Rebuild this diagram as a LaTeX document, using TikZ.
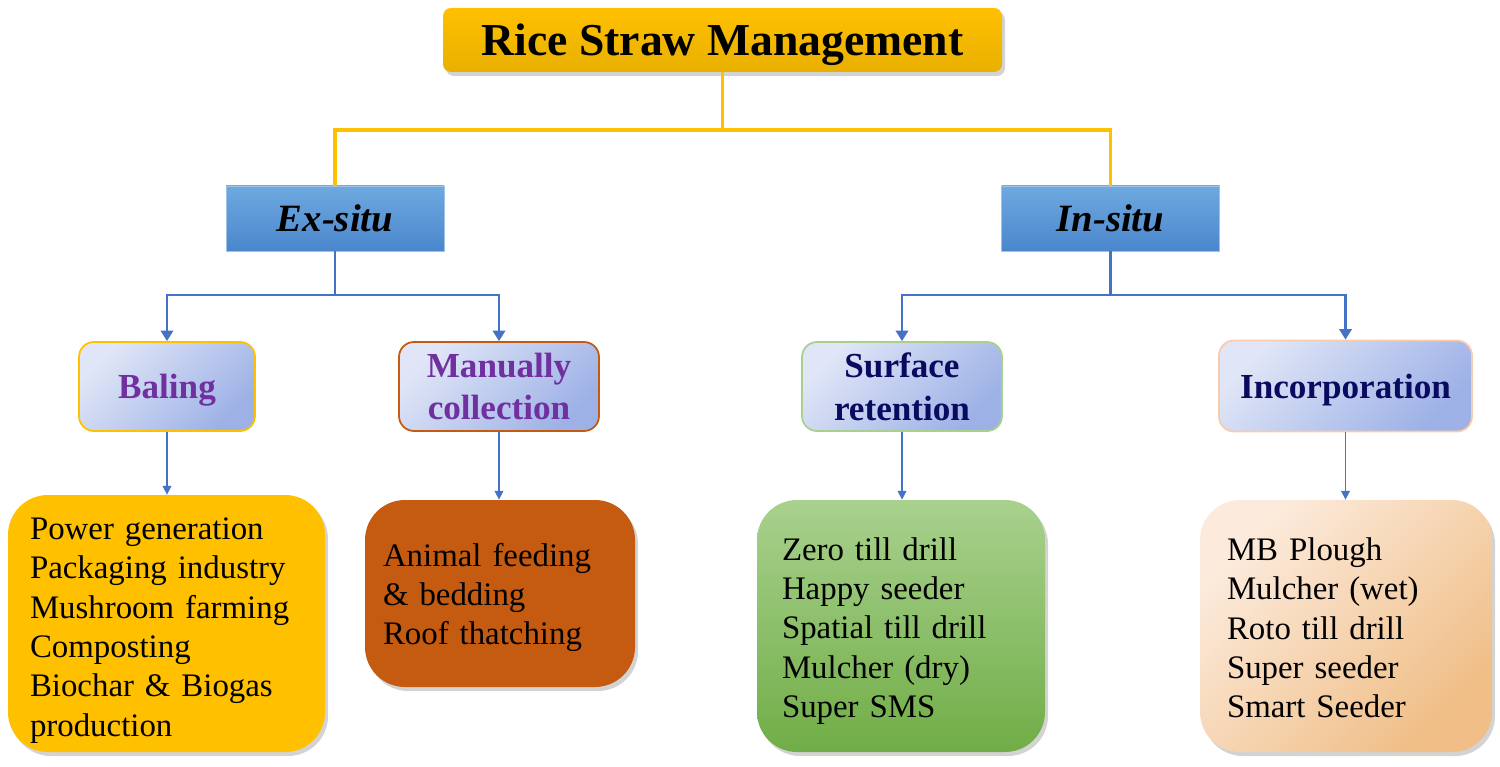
\documentclass[tikz,border=0pt]{standalone}
\usepackage{fontspec}
\setmainfont{Liberation Serif}
\usetikzlibrary{shadows,arrows.meta}
\definecolor{gold}{HTML}{FFC000}
\definecolor{golddark}{HTML}{E8B000}
\definecolor{blueline}{HTML}{4472C4}
\definecolor{bluetop}{HTML}{6FA9E0}
\definecolor{bluebot}{HTML}{4A86CD}
\definecolor{blueedge}{HTML}{9DC3E6}
\definecolor{lavlight}{HTML}{E0E6F7}
\definecolor{lavdark}{HTML}{9DB1E6}
\definecolor{purp}{HTML}{7030A0}
\definecolor{navy}{HTML}{0A0A60}
\definecolor{rust}{HTML}{C55A11}
\definecolor{greenedge}{HTML}{A9D18E}
\definecolor{greentop}{HTML}{A9D18E}
\definecolor{greenbot}{HTML}{70AD47}
\definecolor{peachedge}{HTML}{F8CBAD}
\definecolor{peachlight}{HTML}{FCEBDD}
\definecolor{peachdark}{HTML}{F0BE86}
\tikzset{
  shad/.style={drop shadow={opacity=0.35,shadow xshift=0.06cm,shadow yshift=-0.08cm}},
  titlebox/.style={rounded corners=0.16cm, top color=gold, bottom color=golddark, draw=none, shad,
    minimum width=11.18cm, minimum height=1.28cm, inner sep=0pt, text depth=0pt,
    font=\fontsize{26}{30}\selectfont\bfseries},
  catbox/.style={draw=blueedge, line width=0.5pt, top color=bluetop, bottom color=bluebot,
    minimum width=4.36cm, minimum height=1.3cm, inner sep=0pt, font=\fontsize{22}{26}\selectfont\bfseries\itshape},
  subbox/.style={rounded corners=0.3cm, line width=1pt, left color=lavlight, right color=lavdark, shading angle=45,
    minimum height=1.78cm, inner sep=0pt, align=center, font=\fontsize{20}{24.4}\selectfont\bfseries},
  listbox/.style={rounded corners=0.8cm, draw=none, shad, inner sep=0pt},
  listtext/.style={align=left, inner sep=0pt, font=\fontsize{18.7}{22.4}\selectfont},
  yline/.style={draw=gold, line width=2.2pt},
  bline/.style={draw=blueline, line width=1.6pt},
  barrow/.style={draw=blueline, line width=1.6pt, -{Triangle[width=7pt,length=6pt]}},
  tarrow/.style={draw=blueline, line width=0.7pt, -{Triangle[width=5pt,length=5pt]}}
}
\begin{document}
\begin{tikzpicture}
\useasboundingbox (0,0) rectangle (30,-15.34);
% title
\node[titlebox] (title) at (14.45,-0.8) {Rice Straw Management};
% level 1
\node[catbox] (ex) at (6.7,-4.37) {Ex-situ};
\node[catbox] (in) at (22.21,-4.37) {In-situ};
% level 2
\node[subbox, draw=gold, text=purp, minimum width=3.52cm, text depth=0pt] (bal) at (3.34,-7.73) {Baling};
\node[subbox, draw=rust, text=purp, minimum width=4.0cm] (man) at (9.98,-7.73) {Manually\\collection};
\node[subbox, draw=greenedge, text=navy, minimum width=4.0cm] (sur) at (18.04,-7.73) {Surface\\retention};
\node[subbox, draw=peachedge, text=navy, minimum width=5.06cm, minimum height=1.82cm, text depth=0pt] (inc) at (26.91,-7.72) {Incorporation};
% bottom boxes
\node[listbox, fill=gold, minimum width=6.34cm, minimum height=5.14cm] (yb) at (3.33,-12.47) {};
\node[listbox, fill=rust, minimum width=5.4cm, minimum height=3.74cm] (ob) at (10.0,-11.87) {};
\node[listbox, top color=greentop, bottom color=greenbot, minimum width=5.76cm, minimum height=5.04cm] (gb) at (18.02,-12.52) {};
\node[listbox, left color=peachlight, right color=peachdark, shading angle=45, minimum width=5.84cm, minimum height=5.04cm] (pb) at (26.92,-12.52) {};
\node[listtext, text width=5.46cm] (ybt) at ([yshift=-0.14cm]yb.center)
 {Power generation\\Packaging industry\\Mushroom farming\\Composting\\Biochar \& Biogas\\production};
\node[listtext, text width=4.68cm] (obt) at ([yshift=-0.08cm]ob.center)
 {Animal feeding\\\& bedding\\Roof thatching};
\node[listtext, text width=4.76cm] (gbt) at ([yshift=-0.1cm]gb.center)
 {Zero till drill\\Happy seeder\\Spatial till drill\\Mulcher (dry)\\Super SMS};
\node[listtext, text width=4.76cm] (pbt) at ([yshift=-0.04cm]pb.center)
 {MB Plough\\Mulcher (wet)\\Roto till drill\\Super seeder\\Smart Seeder};
% connectors
\coordinate (j1) at (14.45,-2.6);
\draw[yline] (title.south) -- (j1);
\draw[yline] (j1) -| (ex.north);
\draw[yline] (j1) -| (in.north);
\coordinate (j2) at (6.7,-5.9);
\coordinate (j3) at (22.21,-5.9);
\draw[bline] (ex.south) -- (j2);
\draw[bline] (in.south) -- (j3);
\draw[barrow] (j2) -| (bal.north);
\draw[barrow] (j2) -| (man.north);
\draw[barrow] (j3) -| (sur.north);
\draw[barrow] (j3) -| (inc.north);
\draw[tarrow] (bal.south) -- (bal.south |- yb.north);
\draw[tarrow] (man.south) -- (man.south |- ob.north);
\draw[tarrow] (sur.south) -- (sur.south |- gb.north);
\draw[tarrow] (inc.south) -- (inc.south |- pb.north);
\end{tikzpicture}
\end{document}
